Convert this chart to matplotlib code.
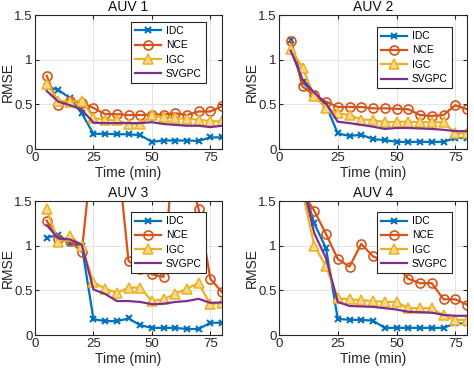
import matplotlib
matplotlib.use("Agg")
import matplotlib.pyplot as plt

plt.rcParams['font.family'] = ['Liberation Sans', 'DejaVu Sans']

time = [5, 10, 15, 20, 25, 30, 35, 40, 45, 50, 55, 60, 65, 70, 75, 80]
methods = ["IDC", "NCE", "IGC", "SVGPC"]
titles = ["AUV 1", "AUV 2", "AUV 3", "AUV 4"]
xticks = [0, 25, 50, 75]
yticks = [0, 0.5, 1, 1.5]
yticklabels = ["0", "0.5", "1", "1.5"]

auv1_idc = [0.70, 0.66, 0.57, 0.40, 0.17, 0.17, 0.165, 0.165, 0.155, 0.08, 0.095, 0.095, 0.095, 0.09, 0.13, 0.13]
auv1_nce = [0.82, 0.49, 0.54, 0.52, 0.46, 0.39, 0.39, 0.38, 0.38, 0.385, 0.385, 0.40, 0.38, 0.42, 0.42, 0.48]
auv1_igc = [0.73, 0.54, 0.53, 0.54, 0.35, 0.325, 0.325, 0.28, 0.28, 0.38, 0.355, 0.345, 0.335, 0.33, 0.31, 0.31]
auv1_svgpc = [0.65, 0.53, 0.49, 0.44, 0.295, 0.29, 0.29, 0.29, 0.29, 0.30, 0.28, 0.27, 0.26, 0.26, 0.245, 0.26]

auv2_idc = [1.22, 0.75, 0.62, 0.49, 0.175, 0.145, 0.16, 0.11, 0.10, 0.08, 0.08, 0.08, 0.08, 0.08, 0.125, 0.12]
auv2_nce = [1.21, 0.70, 0.60, 0.53, 0.47, 0.47, 0.47, 0.455, 0.455, 0.45, 0.445, 0.38, 0.37, 0.38, 0.49, 0.445]
auv2_igc = [1.12, 0.91, 0.59, 0.46, 0.40, 0.38, 0.33, 0.325, 0.30, 0.305, 0.305, 0.30, 0.30, 0.30, 0.175, 0.175]
auv2_svgpc = [1.10, 0.78, 0.63, 0.51, 0.305, 0.29, 0.27, 0.25, 0.225, 0.235, 0.235, 0.23, 0.225, 0.215, 0.20, 0.20]

auv3_idc = [1.09, 1.12, 1.03, 1.00, 0.178, 0.155, 0.155, 0.185, 0.11, 0.08, 0.08, 0.08, 0.067, 0.067, 0.137, 0.137]
auv3_nce = [1.28, 1.07, 1.05, 0.93, 2.17, 2.6, 2.12, 0.83, 0.74, 0.68, 0.65, 2.35, 1.9, 1.41, 0.63, 0.48]
auv3_igc = [1.41, 1.04, 1.11, 1.00, 0.59, 0.52, 0.47, 0.53, 0.53, 0.38, 0.40, 0.46, 0.52, 0.58, 0.345, 0.36]
auv3_svgpc = [1.23, 1.08, 1.07, 1.01, 0.51, 0.46, 0.38, 0.38, 0.37, 0.345, 0.35, 0.37, 0.38, 0.405, 0.36, 0.365]

auv4_idc = [2.3, 1.7, 1.25, 0.97, 0.18, 0.17, 0.17, 0.16, 0.08, 0.08, 0.08, 0.08, 0.08, 0.08, 0.13, 0.13]
auv4_nce = [2.0, 1.6, 1.39, 1.13, 0.85, 0.765, 1.02, 0.88, 0.83, 0.78, 0.63, 0.58, 0.58, 0.40, 0.40, 0.34]
auv4_igc = [2.2, 1.6, 1.00, 0.77, 0.41, 0.40, 0.39, 0.38, 0.37, 0.37, 0.30, 0.30, 0.30, 0.22, 0.17, 0.17]
auv4_svgpc = [2.2, 1.7, 1.14, 0.86, 0.37, 0.325, 0.32, 0.315, 0.30, 0.285, 0.26, 0.255, 0.25, 0.225, 0.215, 0.215]

data = [
    [auv1_idc, auv1_nce, auv1_igc, auv1_svgpc],
    [auv2_idc, auv2_nce, auv2_igc, auv2_svgpc],
    [auv3_idc, auv3_nce, auv3_igc, auv3_svgpc],
    [auv4_idc, auv4_nce, auv4_igc, auv4_svgpc],
]

colors = ["#0072BD", "#D95319", "#EDB120", "#7E2F8E"]
markers = ["x", "o", "^", None]

positions = [
    [35/474, 1 - 149/368, 187/474, 134/368],
    [279/474, 1 - 149/368, 188/474, 134/368],
    [35/474, 1 - 335/368, 187/474, 134/368],
    [279/474, 1 - 335/368, 188/474, 134/368],
]
legend_anchor = [(0.914, 0.948), (0.92, 0.91), (0.914, 0.918), (0.92, 0.918)]

fig = plt.figure(figsize=(4.74, 3.68), dpi=100)
for i in range(4):
    ax = fig.add_axes(positions[i])
    for j in range(4):
        kw = dict(color=colors[j], lw=1.6, label=methods[j])
        if markers[j] == "x":
            kw.update(marker="x", ms=4.5, mew=1.5)
        elif markers[j] == "o":
            kw.update(marker="o", ms=6.5, mfc="none", mew=1.2)
        elif markers[j] == "^":
            kw.update(marker="^", ms=7, mfc="#F5D890", mec=colors[j], mew=1.1)
        ax.plot(time, data[i][j], **kw)
    ax.set_xlim(0, 80)
    ax.set_ylim(0, 1.5)
    ax.set_xticks(xticks)
    ax.set_yticks(yticks)
    ax.set_yticklabels(yticklabels)
    ax.grid(True, color="#E3E3E3", lw=0.7)
    ax.set_axisbelow(True)
    ax.tick_params(direction="in", length=3, labelsize=9.5, colors="#262626", pad=2.5,
                   top=True, right=True)
    ax.tick_params(axis="y", pad=1.5)
    for s in ax.spines.values():
        s.set_color("#262626")
        s.set_linewidth(0.8)
    ax.set_title(titles[i], fontsize=10, pad=3, color="#111111")
    ax.set_xlabel("Time (min)", fontsize=10, labelpad=1, color="#262626")
    ax.set_ylabel("RMSE", fontsize=10, color="#262626")
    ax.yaxis.set_label_coords(-0.108, 0.5)
    leg = ax.legend(loc="upper right", bbox_to_anchor=legend_anchor[i], fontsize=7.4,
                    frameon=True, fancybox=False, framealpha=1, edgecolor="#262626",
                    borderpad=0.4, labelspacing=0.42, handlelength=2.5,
                    handletextpad=0.5, borderaxespad=0)
    leg.get_frame().set_linewidth(0.8)

fig.savefig("out.png", dpi=100)
